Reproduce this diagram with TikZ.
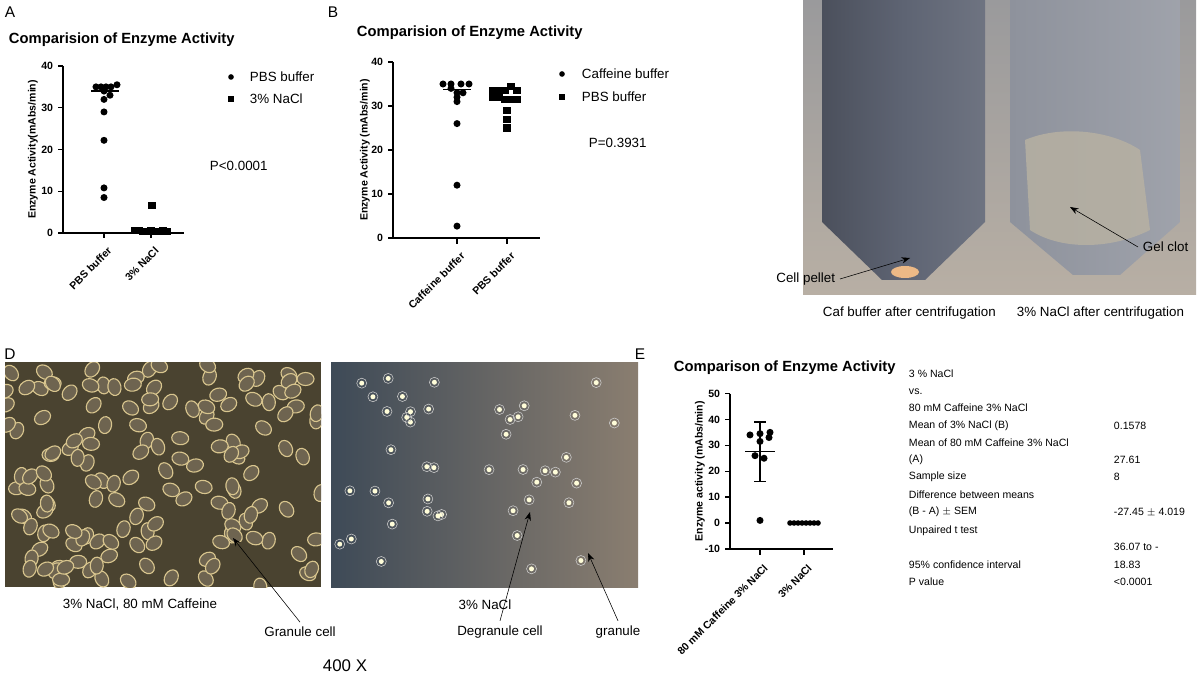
\documentclass[tikz,border=0pt]{standalone}
\usepackage{fontspec}
\setmainfont{Liberation Sans}
\usetikzlibrary{arrows.meta}
\definecolor{tubeA}{HTML}{5E6473}
\definecolor{tubeB}{HTML}{8E929C}
\definecolor{bgC}{HTML}{9A9A9C}
\definecolor{bgCb}{HTML}{B8AFA4}
\definecolor{clot}{HTML}{B9B2A2}
\definecolor{photoL}{HTML}{4A4330}
\definecolor{cellL}{HTML}{6E6450}
\definecolor{rimL}{HTML}{D8C58E}
\definecolor{photoR1}{HTML}{3E4A57}
\definecolor{photoR2}{HTML}{8A7E70}
\begin{document}
\begin{tikzpicture}[x=0.025cm,y=-0.025cm,
  dot/.style={circle,fill=black,inner sep=0pt,minimum size=5pt},
  sq/.style={rectangle,fill=black,inner sep=0pt,minimum size=5pt},
  ttl/.style={font=\bfseries\fontsize{10.5}{12}\selectfont,anchor=west},
  lbl/.style={font=\fontsize{9.5}{11}\selectfont},
  tick/.style={font=\bfseries\fontsize{7.5}{9}\selectfont},
  st/.style={font=\fontsize{7.5}{9}\selectfont,anchor=west},
  pan/.style={font=\fontsize{11}{13}\selectfont},
  arr/.style={-{Stealth[length=6pt]},thin}]
\useasboundingbox (0,0) rectangle (1200,681);
\fill[white] (0,0) rectangle (1200,681);
% ---------- A
\node[pan] (pA) at (10,12) {A};
\node[ttl] (tA) at (4,40) {Comparision of Enzyme Activity};
\begin{scope}[shift={(63,233)},yscale=4.175]
 \draw[line width=0.9pt] (0,-40)--(0,0)--(121,0);
 \foreach \v in {0,10,20,30,40}{\draw[line width=0.9pt] (-5,-\v)--(0,-\v); \node[tick,anchor=east] at (-5,-\v) {\v};}
 \draw[line width=0.9pt] (41,0)--(41,1.3) (88,0)--(88,1.3);
 \node[tick,rotate=45,anchor=north east] at (44,1.5) {PBS buffer};
 \node[tick,rotate=45,anchor=north east] at (91,1.5) {3\% NaCl};
 \foreach \x/\v in {33/35,38/35,43/35,48/35,54/35.5,41/34,47/33,41/32,41/29,41/22.2,41/10.8,41/8.5}{\node[dot] at (\x,-\v) {};}
 \draw[line width=0.9pt] (28,-34)--(56,-34);
 \foreach \x/\v in {72/0.5,76/0.7,80/0.4,84/0.3,88/0.6,92/0.3,96/0.4,100/0.5,104/0.4,89/6.7}{\node[sq] at (\x,-\v) {};}
 \draw[line width=0.9pt] (72,-0.4)--(104,-0.4);
 \node[tick,rotate=90] at (-30,-20) {Enzyme Activity(mAbs/min)};
\end{scope}
\node[dot,minimum size=4pt] at (231,77) {};
\node[lbl,anchor=west] at (245,77) {PBS buffer};
\node[sq,minimum size=4pt] at (231,99) {};
\node[lbl,anchor=west] at (245,99) {3\% NaCl};
\node[lbl,anchor=west] at (205,166) {P<0.0001};
% ---------- B
\node[pan] (pB) at (333,12) {B};
\node[ttl] (tB) at (352,33) {Comparision of Enzyme Activity};
\begin{scope}[shift={(393,238)},yscale=4.4]
 \draw[line width=0.9pt] (0,-40)--(0,0)--(147,0);
 \foreach \v in {0,10,20,30,40}{\draw[line width=0.9pt] (-5,-\v)--(0,-\v); \node[tick,anchor=east] at (-5,-\v) {\v};}
 \draw[line width=0.9pt] (64,0)--(64,1.3) (114,0)--(114,1.3);
 \node[tick,rotate=45,anchor=north east] at (67,1.5) {Caffeine buffer};
 \node[tick,rotate=45,anchor=north east] at (117,1.5) {PBS buffer};
 \foreach \x/\v in {50/35,58/35,68/35,76/35,58/34,64/33,70/33,64/32,64/31,64/26,64/12,64/2.7}{\node[dot] at (\x,-\v) {};}
 \draw[line width=0.9pt] (50,-33.8)--(78,-33.8);
 \foreach \x/\v in {100/33.5,106/33.5,112/33.5,118/34.5,124/33.5,100/32,106/32,112/31.5,118/31.5,124/31.5,114/29,114/27,114/25}{\node[sq] at (\x,-\v) {};}
 \draw[line width=0.9pt] (98,-32.2)--(128,-32.2);
 \node[tick,rotate=90] at (-28,-20) {Enzyme Activity (mAbs/min)};
\end{scope}
\node[dot,minimum size=4pt] at (562,74) {};
\node[lbl,anchor=west] at (577,74) {Caffeine buffer};
\node[sq,minimum size=4pt] at (562,97) {};
\node[lbl,anchor=west] at (577,97) {PBS buffer};
\node[lbl,anchor=west] at (584,143) {P=0.3931};
% ---------- C
\node[pan] (pC) at (1003,12) {C};
\shade[top color=bgC,bottom color=bgCb] (803,0) rectangle (1196,295);
\shade[left color=tubeA!80!black,right color=tubeA!90!white,middle color=tubeA] (822,0)--(985,0)--(985,222)--(925,280)--(882,280)--(822,222)--cycle;
\shade[left color=tubeB,right color=tubeB!85!white] (1010,0)--(1180,0)--(1180,222)--(1120,275)--(1073,275)--(1010,222)--cycle;
\fill[clot,opacity=0.8] (1025,140) .. controls (1060,125) and (1110,130) .. (1140,150) -- (1150,230) .. controls (1110,250) and (1060,250) .. (1030,230) -- cycle;
\fill[orange!45!brown!55] (905,272) ellipse (14 and 6);
\node[lbl,anchor=west] at (818,313) {Caf buffer after centrifugation};
\node[lbl,anchor=west] at (1012,313) {3\% NaCl after centrifugation};
\node[lbl,anchor=east] (cp) at (840,279) {Cell pellet};
\coordinate (cpt) at (910,258);
\draw[arr] (cp.east) -- (cpt);
\node[lbl,anchor=west] (gc) at (1138,247) {Gel clot};
\coordinate (gct) at (1070,207);
\draw[arr] (gc.west) -- (gct);
% ---------- D
\node[pan] (pD) at (10,354) {D};
\begin{scope}
\clip (5,362) rectangle (321,587);
\fill[photoL] (5,362) rectangle (321,587);
\pgfmathsetseed{7}
\foreach \i in {1,...,150}{
 \pgfmathsetmacro\xx{5+316*rnd}
 \pgfmathsetmacro\yy{362+225*rnd}
 \pgfmathsetmacro\aa{360*rnd}
 \draw[rimL,line width=0.8pt,fill=cellL,rotate around={\aa:(\xx,\yy)}] (\xx,\yy) ellipse (6.5 and 8.5);}
\end{scope}
\shade[left color=photoR1,right color=photoR2] (331,362) rectangle (638,587);
\pgfmathsetseed{11}
\foreach \i in {1,...,45}{
 \pgfmathsetmacro\xx{338+294*rnd}
 \pgfmathsetmacro\yy{368+212*rnd}
 \fill[white!85!yellow] (\xx,\yy) circle (2.5);
 \draw[gray!40,line width=0.4pt] (\xx,\yy) circle (5);}
\node[lbl] at (140,605) {3\% NaCl, 80 mM Caffeine};
\node[lbl] at (485,605) {3\% NaCl};
\node[lbl] (gr) at (300,632) {Granule cell};
\coordinate (grt) at (233,538);
\draw[arr] (gr.north) -- (grt);
\node[lbl] (dg) at (500,632) {Degranule cell};
\coordinate (dgt) at (530,512);
\draw[arr] (dg.north) -- (dgt);
\node[lbl] (gn) at (618,632) {granule};
\coordinate (gnt) at (588,553);
\draw[arr] (gn.north) -- (gnt);
\node[font=\fontsize{12}{14}\selectfont] (x4) at (345,666) {400 X};
% ---------- E
\node[pan] (pE) at (640,354) {E};
\node[ttl] (tE) at (669,368) {Comparison of Enzyme Activity};
\begin{scope}[shift={(730,523)},yscale=2.59]
 \draw[line width=0.9pt] (0,-50)--(0,10)--(103,10);
 \foreach \v in {-10,0,10,20,30,40,50}{\draw[line width=0.9pt] (-5,-\v)--(0,-\v); \node[tick,anchor=east] at (-5,-\v) {\v};}
 \draw[line width=0.9pt] (30,10)--(30,12.5) (74,10)--(74,12.5);
 \node[tick,rotate=45,anchor=north east] at (33,13) {80 mM Caffeine 3\% NaCl};
 \node[tick,rotate=45,anchor=north east] at (77,13) {3\% NaCl};
 \foreach \x/\v in {20/34,30/34.5,40/35,30/31.5,39/33,25/26,34/25,30/1}{\node[dot] at (\x,-\v) {};}
 \draw[line width=0.8pt] (30,-39)--(30,-16) (24,-39)--(36,-39) (24,-16)--(36,-16);
 \draw[line width=1pt] (15,-27.6)--(45,-27.6);
 \foreach \x in {60,64,...,88}{\node[dot,minimum size=4pt] at (\x,0) {};}
 \node[tick,rotate=90] at (-30,-20) {Enzyme activity (mAbs/min)};
\end{scope}
\foreach \y/\a/\b in {374/{3 \% NaCl}/{},392/{vs.}/{},408/{80 mM Caffeine 3\% NaCl}/{},426/{Mean of 3\% NaCl (B)}/{0.1578},443/{Mean of 80 mM Caffeine 3\% NaCl}/{},460/{(A)}/{27.61},477/{Sample size}/{8},495/{Difference between means}/{},512/{(B - A) $\pm$ SEM}/{-27.45 $\pm$ 4.019},531/{Unpaired t test}/{},547/{}/{36.07 to -},565/{95\% confidence interval}/{18.83},582/{P value}/{<0.0001}}{
 \node[st] at (904,\y) {\a};
 \node[st] at (1109,\y) {\b};}
\end{tikzpicture}
\end{document}
